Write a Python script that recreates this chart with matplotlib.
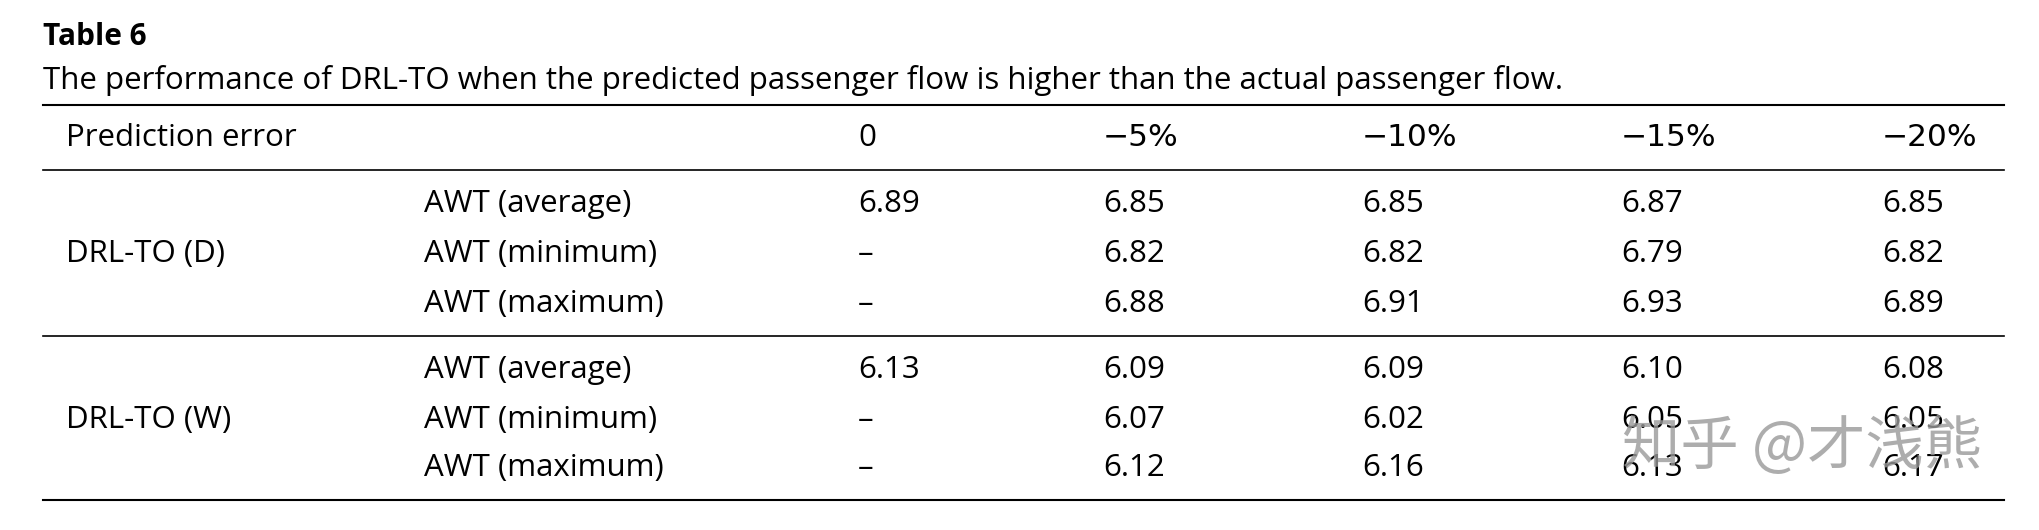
import matplotlib
matplotlib.use("Agg")
import matplotlib.pyplot as plt

columns = ["0", "\u22125%", "\u221210%", "\u221215%", "\u221220%"]
groups = ["DRL-TO (D)", "DRL-TO (W)"]
metrics = ["AWT (average)", "AWT (minimum)", "AWT (maximum)"]
d_vals = [["6.89", "6.85", "6.85", "6.87", "6.85"],
          ["\u2013", "6.82", "6.82", "6.79", "6.82"],
          ["\u2013", "6.88", "6.91", "6.93", "6.89"]]
w_vals = [["6.13", "6.09", "6.09", "6.10", "6.08"],
          ["\u2013", "6.07", "6.02", "6.05", "6.05"],
          ["\u2013", "6.12", "6.16", "6.13", "6.17"]]

W, H = 2040, 530
fig = plt.figure(figsize=(W/100, H/100), dpi=100)
ax = fig.add_axes([0, 0, 1, 1])
ax.set_xlim(0, W); ax.set_ylim(H, 0); ax.axis("off")

fs = 22.5
font = "Open Sans"
ax.text(43, 37, "Table 6", fontsize=21.5, fontweight="bold", family=font, va="center")
ax.text(43, 80, "The performance of DRL-TO when the predicted passenger flow is higher than the actual passenger flow.",
        fontsize=fs, family=font, va="center")
for y, lw in [(105, 1.5), (170, 1.2), (336, 1.2), (500, 1.5)]:
    ax.plot([43, 2004], [y, y], color="black", lw=lw)

colx = [858, 1103, 1362, 1621, 1882]
ax.text(66, 138, "Prediction error", fontsize=fs, family=font, va="center")
for x, c in zip(colx, columns):
    ax.text(x, 138, c, fontsize=fs, family=["DejaVu Sans"] if c.startswith("\u2212") else font, va="center")

rows_y = [[204, 254, 304], [370, 420, 468]]
for g, vals, ys in zip(groups, [d_vals, w_vals], rows_y):
    ax.text(66, ys[1], g, fontsize=fs, family=font, va="center")
    for m, rv, y in zip(metrics, vals, ys):
        ax.text(424, y, m, fontsize=fs, family=font, va="center")
        for x, v in zip(colx, rv):
            ax.text(x, y, v, fontsize=fs, family=font, va="center")

ax.text(1622, 448, "知乎 @才浅熊", fontsize=42, family=["Noto Sans CJK SC", "DejaVu Sans"],
        color="#999999", alpha=0.8, va="center")
fig.savefig("out.png", dpi=100)
